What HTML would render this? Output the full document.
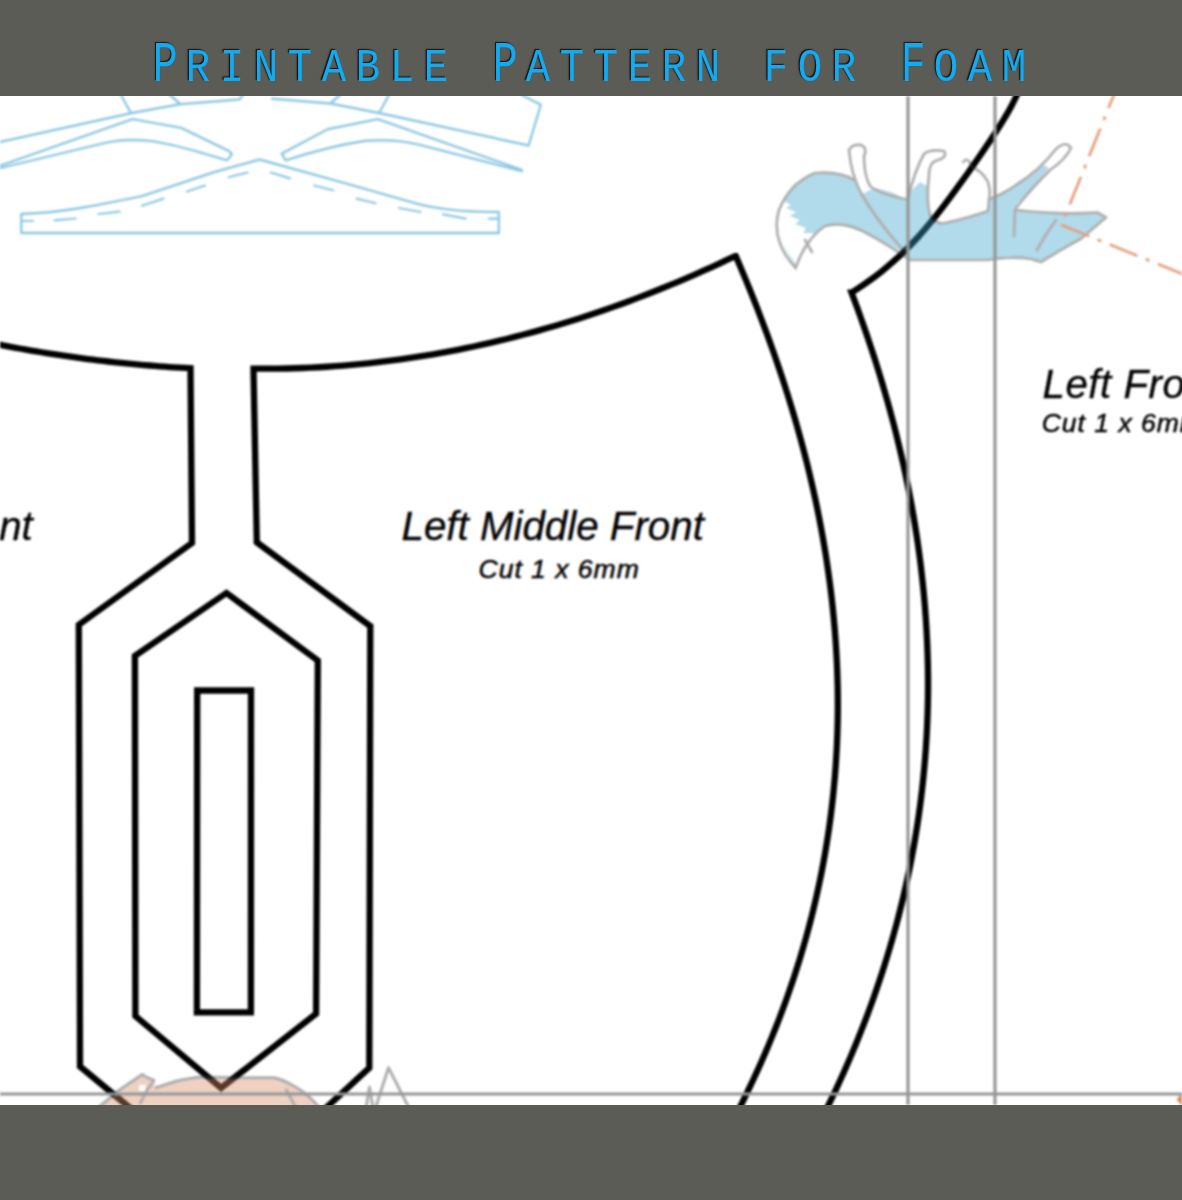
<!DOCTYPE html>
<html><head><meta charset="utf-8">
<style>
html,body{margin:0;padding:0;}
body{width:1182px;height:1200px;position:relative;overflow:hidden;background:#fff;}
#wrap{position:absolute;left:-12px;top:-12px;width:1206px;height:1224px;background:#fff;filter:blur(0.8px);}
#inner{position:absolute;left:12px;top:12px;width:1182px;height:1200px;}
.bar{position:absolute;left:0;width:1182px;background:#5c5c56;}
#top{top:0;height:96px;}
#bot{top:1105px;height:95px;}
svg{position:absolute;left:0;top:0;}
#title{position:absolute;left:0;top:0;height:96px;width:1182px;font-family:"Liberation Mono",monospace;color:#12aaf0;text-shadow:-1.5px -1.5px 1.4px rgba(10,10,8,0.95);}
#title span{position:absolute;width:34px;text-align:center;line-height:1;}
#title .c{transform:scaleX(0.72);}
#title .s{transform:scaleX(0.87);}
.lbl{position:absolute;font-family:"Liberation Sans",sans-serif;font-style:italic;color:#000;white-space:nowrap;line-height:1;}
.big{font-size:40.3px;-webkit-text-stroke:0.35px #000;}
.sub{font-size:26.5px;font-weight:normal;-webkit-text-stroke:0.55px #000;}
</style></head><body>
<div id="wrap"><div id="inner">
<svg width="1182" height="1200" viewBox="0 0 1182 1200">
  <defs><filter id="bl" x="-5%" y="-5%" width="110%" height="110%"><feGaussianBlur stdDeviation="0.6"/></filter></defs>
  <g fill="none" stroke="#8fc8e2" stroke-width="2.4" stroke-linejoin="round" stroke-linecap="round" >
    <path d="M-12,144.7 L131.8,113 L179.9,104.2 L239.4,99.5 L243,95"/>
    <path d="M121,95 L130.9,113 M170.1,95 L179.6,103.5"/>
    <path d="M-12,170 L132.5,119.1 L181.2,127.9 L228.6,150.9 L232,154 L227.2,160.4 Q212,156 194.8,150.9 Q175,145 154.1,141.4 Q130,138.5 113.5,141.4 Q106,142.5 100,144.1 L-12,171"/>
    <path d="M272.2,98.8 L330.4,103.5 L379.1,113 L528.6,145.5 L540.8,104.9 L521.8,95"/>
    <path d="M339.9,95 L330.4,103.5 M389,95 L379.1,113"/>
    <path d="M521.8,169.9 L377.8,119.1 L327.7,129.3 L281.7,153.6 L285.7,160.4 Q330,146 365.6,140.8 Q385,139.5 400.8,141.4 Q410,142.5 420,144.8 L521.8,171.2"/>
    <path d="M21.3,214 C60,213 100,205 142,196.2 L213,172.5 L259.5,159.5 L344.8,183.2 L415.8,203.3 C440,210 470,212 498.8,212 L498.8,233 L21.3,233 Z"/>
    <path d="M22.5,221 L33,221 M54.5,220.4 L75.8,218.5 M98.3,214 L119.6,211.6 M142,205.7 L163.5,198.6 M187,191.5 L205,185.5 M228.6,177.2 L247.6,172.5 M271,172.5 L290,178.4 M314,185.5 L333,190.3 M356.6,198.6 L375.6,203.3 M399,208 L420.6,212 M443,214.4 L465.6,218.7 M489,218.7 L498.8,218.7" stroke-width="2.2"/>
  </g>
  <g fill="none" stroke="#000" stroke-width="6.3" stroke-linejoin="miter">
    <path d="M-10.00,342.85 L-4.86,343.88 L0.28,344.89 L5.42,345.89 L10.56,346.86 L15.71,347.81 L20.85,348.74 L25.99,349.65 L31.13,350.54 L36.27,351.41 L41.41,352.26 L46.55,353.09 L51.69,353.90 L56.83,354.69 L61.97,355.47 L67.12,356.22 L72.26,356.95 L77.40,357.66 L82.54,358.35 L87.68,359.02 L92.82,359.67 L97.96,360.30 L103.10,360.91 L108.24,361.50 L113.38,362.07 L118.53,362.62 L123.67,363.15 L128.81,363.66 L133.95,364.15 L139.09,364.62 L144.23,365.07 L149.37,365.50 L154.51,365.91 L159.65,366.30 L164.79,366.67 L169.94,367.02 L175.08,367.35 L180.22,367.66 L185.36,367.95 L190.50,368.22 L192,543 L78.8,624.8 L80,1066.4 L135,1112"/>
    <path d="M314.8,1118.2 L369.3,1067.9 L370.3,626.1 L256.8,542.3 L253.5,369.2 L253.50,368.64 L261.66,368.70 L269.83,368.69 L277.99,368.62 L286.15,368.48 L294.31,368.27 L302.48,367.99 L310.64,367.64 L318.80,367.23 L326.96,366.75 L335.13,366.20 L343.29,365.58 L351.45,364.89 L359.62,364.14 L367.78,363.32 L375.94,362.43 L384.10,361.47 L392.27,360.45 L400.43,359.36 L408.59,358.19 L416.75,356.97 L424.92,355.67 L433.08,354.30 L441.24,352.87 L449.41,351.37 L457.57,349.80 L465.73,348.17 L473.89,346.46 L482.06,344.69 L490.22,342.85 L498.38,340.94 L506.54,338.97 L514.71,336.92 L522.87,334.81 L531.03,332.63 L539.19,330.39 L547.36,328.07 L555.52,325.69 L563.68,323.24 L571.85,320.72 L580.01,318.13 L588.17,315.48 L596.33,312.75 L604.50,309.96 L612.66,307.10 L620.82,304.18 L628.98,301.18 L637.15,298.12 L645.31,294.99 L653.47,291.79 L661.64,288.53 L669.80,285.19 L677.96,281.79 L686.12,278.32 L694.29,274.79 L702.45,271.18 L710.61,267.51 L718.77,263.77 L726.94,259.96 L735.10,256.08 L735.77,256.10 L739.49,264.78 L743.16,273.45 L746.76,282.13 L750.30,290.80 L753.77,299.48 L757.18,308.15 L760.53,316.83 L763.82,325.51 L767.03,334.18 L770.19,342.86 L773.28,351.53 L776.30,360.21 L779.25,368.88 L782.14,377.56 L784.96,386.24 L787.71,394.91 L790.40,403.59 L793.01,412.26 L795.56,420.94 L798.03,429.62 L800.44,438.29 L802.77,446.97 L805.04,455.64 L807.23,464.32 L809.35,472.99 L811.40,481.67 L813.37,490.35 L815.28,499.02 L817.11,507.70 L818.86,516.37 L820.54,525.05 L822.14,533.72 L823.67,542.40 L825.13,551.08 L826.51,559.75 L827.81,568.43 L829.03,577.10 L830.18,585.78 L831.24,594.45 L832.23,603.13 L833.14,611.81 L833.98,620.48 L834.73,629.16 L835.40,637.83 L835.99,646.51 L836.50,655.18 L836.93,663.86 L837.27,672.54 L837.53,681.21 L837.72,689.89 L837.81,698.56 L837.83,707.24 L837.76,715.92 L837.60,724.59 L837.36,733.27 L837.03,741.94 L836.62,750.62 L836.12,759.29 L835.54,767.97 L834.87,776.65 L834.11,785.32 L833.26,794.00 L832.32,802.67 L831.30,811.35 L830.18,820.02 L828.98,828.70 L827.68,837.38 L826.30,846.05 L824.82,854.73 L823.25,863.40 L821.59,872.08 L819.84,880.75 L817.99,889.43 L816.05,898.11 L814.02,906.78 L811.89,915.46 L809.67,924.13 L807.35,932.81 L804.94,941.48 L802.43,950.16 L799.82,958.84 L797.12,967.51 L794.32,976.19 L791.43,984.86 L788.43,993.54 L785.34,1002.22 L782.14,1010.89 L778.85,1019.57 L775.46,1028.24 L771.97,1036.92 L768.37,1045.59 L764.68,1054.27 L760.88,1062.95 L756.98,1071.62 L752.98,1080.30 L748.88,1088.97 L744.67,1097.65 L740.36,1106.32 L735.94,1115.00"/>
    <path d="M1021.11,85.00 L1019.45,89.24 L1017.62,93.47 L1015.65,97.71 L1013.54,101.95 L1011.32,106.18 L1008.99,110.42 L1006.57,114.66 L1004.06,118.89 L1001.48,123.13 L998.83,127.37 L996.13,131.60 L993.37,135.84 L990.57,140.08 L987.74,144.31 L984.87,148.55 L981.97,152.79 L979.05,157.02 L976.10,161.26 L973.14,165.50 L970.15,169.73 L967.15,173.97 L964.13,178.21 L961.08,182.44 L958.02,186.68 L954.92,190.92 L951.80,195.16 L948.64,199.39 L945.45,203.63 L942.21,207.87 L938.91,212.10 L935.56,216.34 L932.14,220.58 L928.64,224.81 L925.05,229.05 L921.37,233.29 L917.57,237.52 L913.65,241.76 L909.60,246.00 L905.40,250.23 L901.03,254.47 L896.49,258.71 L891.75,262.94 L886.79,267.18 L881.61,271.42 L876.17,275.65 L870.47,279.89 L864.47,284.13 L858.17,288.36 L851.53,292.60 L851.52,292.60 L854.65,300.91 L857.71,309.21 L860.71,317.52 L863.65,325.83 L866.52,334.14 L869.34,342.44 L872.09,350.75 L874.78,359.06 L877.40,367.36 L879.97,375.67 L882.47,383.98 L884.90,392.28 L887.28,400.59 L889.58,408.90 L891.83,417.21 L894.01,425.51 L896.12,433.82 L898.17,442.13 L900.15,450.43 L902.07,458.74 L903.92,467.05 L905.71,475.36 L907.43,483.66 L909.08,491.97 L910.67,500.28 L912.18,508.58 L913.63,516.89 L915.02,525.20 L916.33,533.51 L917.58,541.81 L918.76,550.12 L919.86,558.43 L920.90,566.73 L921.87,575.04 L922.77,583.35 L923.61,591.65 L924.37,599.96 L925.06,608.27 L925.68,616.58 L926.22,624.88 L926.70,633.19 L927.11,641.50 L927.44,649.80 L927.70,658.11 L927.89,666.42 L928.01,674.73 L928.06,683.03 L928.03,691.34 L927.93,699.65 L927.75,707.95 L927.50,716.26 L927.18,724.57 L926.78,732.87 L926.31,741.18 L925.76,749.49 L925.14,757.80 L924.44,766.10 L923.67,774.41 L922.82,782.72 L921.90,791.02 L920.90,799.33 L919.82,807.64 L918.66,815.95 L917.43,824.25 L916.12,832.56 L914.73,840.87 L913.27,849.17 L911.72,857.48 L910.10,865.79 L908.40,874.09 L906.62,882.40 L904.76,890.71 L902.82,899.02 L900.80,907.32 L898.70,915.63 L896.52,923.94 L894.26,932.24 L891.92,940.55 L889.50,948.86 L887.00,957.17 L884.41,965.47 L881.75,973.78 L879.00,982.09 L876.17,990.39 L873.25,998.70 L870.26,1007.01 L867.18,1015.32 L864.01,1023.62 L860.76,1031.93 L857.43,1040.24 L854.02,1048.54 L850.52,1056.85 L846.93,1065.16 L843.26,1073.46 L839.51,1081.77 L835.67,1090.08 L831.74,1098.39 L827.73,1106.69 L823.63,1115.00"/>
    <path d="M226.4,593 L317.8,660.5 L316.1,1013.8 L221.1,1088 L135.4,1016.1 L134.9,655.8 Z"/>
    <path d="M197.2,690.5 L251,690.5 L250.9,1012.4 L196.9,1012.4 Z"/>
  </g>
  <g opacity="0.4">
    <path fill="#3ea5cb" d="M795.7,268 L781,241 L777,218 L783.5,198 L794,184 L815,173 L835,173 L854,180 L862,194 L872,189 L875.6,188 L891.8,192.3 L905.4,199 L912,190 L920,182 L927,186 L928.4,211 L939.3,223.4 L965,218 L988,211.2 L989,199 L997.5,195 L1016,185 L1030,176 L1043.8,165 L1049,168 L1030,190 L1016,205 L1016.3,210 L1062.5,213.8 L1097.5,212.5 L1106,217.5 L1081,238.8 L1050,255 L1041,261 L1031,259 L1008,256 L988,260 L910.8,260 L902.7,251.8 L878.3,239.6 L858,230.2 L840.4,223.4 L826.9,224.8 L810.6,235.6 Z"/>
    <path fill="#fff" d="M782,200 L791,205 L786,208 L796,212 L790,216 L800,220 L795,224 L806,228 L803,233 L813,233 L803,248 L796,265 L780,240 L777,218 Z"/>
    <g fill="none" stroke="#373737" stroke-width="2.7" stroke-linejoin="round" stroke-linecap="round">
      <path d="M795.7,268 Q770,240 779,210 Q790,183 815,173 Q840,171 854,180"/>
      <path d="M849,150 Q851,175 862,195 Q880,225 906,253"/>
      <path d="M849,150 Q852,144 861,145 Q868,148 864,156 Q864,175 870,186 Q880,194 905,199"/>
      <path d="M795.7,268 Q805,240 825,226 Q845,220 870,235 Q890,246 910,260 L988,260 Q1010,256 1031,259 L1041,262 Q1060,250 1081,238.8 L1106,217.5 L1097.5,212.5 Q1060,215 1016.3,210"/>
      <path d="M805,240 L812,252"/>
      
      <path d="M908,198 Q915,170 924,154 Q930,149 944,151 Q948,157 938,160 Q929,162 929,175 Q926,200 930,215 Q936,225 945,223 Q968,218 988,211 L989,199"/>
      <path d="M963,162 Q968,156 971,166 Q983,172 988,182 Q991,192 989,199 Q1000,196 1016,185 Q1040,170 1056,149 Q1066,140 1071,148 Q1065,160 1050,170 Q1030,190 1016,208"/>
      <path d="M1015,210 L1014,236"/>
      <path d="M1056,220 Q1045,235 1037,250"/>
    </g>
  </g>
  <g opacity="0.4">
    <path fill="#d98e69" d="M98,1110 L118.6,1090.5 L142.3,1074.4 L154,1080 L155,1088 L176,1081.2 L200,1076.9 L240,1077.8 L273.8,1077.8 L290.8,1084.5 L303.5,1092.1 L320,1110 Z"/>
    <path fill="#fff" d="M139,1085 L146,1085 L145,1091 L139,1091 Z"/>
    <g fill="none" stroke="#373737" stroke-width="3" stroke-linejoin="round">
      <path d="M155,1088 L176,1081.2 Q190,1078 200,1076.9 L240,1077.8 L273.8,1077.8 Q284,1080 290.8,1084.5 Q298,1088 303.5,1092.1 Q312,1099 320,1108"/>
      <path d="M98,1108 L118.6,1090.5 L142.3,1074.4 L145.7,1076.9 L154.1,1080.3 L147.4,1089.6 L139.8,1104"/>
      <path d="M285.7,1088.8 L296,1108"/>
      <path d="M375.5,1108 L388.5,1067.6 L409,1108"/>
      <path d="M366,1108 L369.5,1087 L373,1108"/>
    </g>
  </g>
  <g fill="none" stroke="#e5a080" stroke-width="2.8" stroke-dasharray="30,9,4,9" stroke-dashoffset="12.7">
    <path d="M1115,92 L1061.5,225 L1190,277"/>
  </g>
  <path d="M1182,1093 L1176.5,1099.5 L1182,1106 Z" fill="#e08a55"/>
  <g stroke="#959595" stroke-width="3.2" fill="none">
    <line x1="908" y1="96" x2="908" y2="1105"/>
    <line x1="995" y1="96" x2="995" y2="1105"/>
    <line x1="0" y1="1094" x2="1182" y2="1094"/>
  </g>
</svg>
<div class="lbl big" id="l1" style="left:401.5px;top:506.5px;">Left Middle Front</div>
<div class="lbl sub" id="l1s" style="left:478.5px;top:556px;letter-spacing:1px;">Cut 1 x 6mm</div>
<div class="lbl big" id="l2" style="left:1042.5px;top:364.6px;letter-spacing:0.5px;">Left Front</div>
<div class="lbl sub" id="l2s" style="left:1041.7px;top:410px;letter-spacing:1px;">Cut 1 x 6mm</div>
<div class="lbl big" id="l0" style="right:1149.2px;top:506.5px;">Left Side Front</div>
</div></div>
<div class="bar" id="top"></div>
<div class="bar" id="bot"></div>
<div id="title"><span class="c" style="left:147.9px;top:36.7px;font-size:57.6px">P</span><span class="s" style="left:181.2px;top:45.6px;font-size:46.8px">R</span><span class="s" style="left:215.2px;top:45.6px;font-size:46.8px">I</span><span class="s" style="left:249.2px;top:45.6px;font-size:46.8px">N</span><span class="s" style="left:283.2px;top:45.6px;font-size:46.8px">T</span><span class="s" style="left:317.2px;top:45.6px;font-size:46.8px">A</span><span class="s" style="left:351.2px;top:45.6px;font-size:46.8px">B</span><span class="s" style="left:385.2px;top:45.6px;font-size:46.8px">L</span><span class="s" style="left:419.2px;top:45.6px;font-size:46.8px">E</span><span class="c" style="left:487.9px;top:36.7px;font-size:57.6px">P</span><span class="s" style="left:521.2px;top:45.6px;font-size:46.8px">A</span><span class="s" style="left:555.2px;top:45.6px;font-size:46.8px">T</span><span class="s" style="left:589.2px;top:45.6px;font-size:46.8px">T</span><span class="s" style="left:623.2px;top:45.6px;font-size:46.8px">E</span><span class="s" style="left:657.2px;top:45.6px;font-size:46.8px">R</span><span class="s" style="left:691.2px;top:45.6px;font-size:46.8px">N</span><span class="s" style="left:759.2px;top:45.6px;font-size:46.8px">F</span><span class="s" style="left:793.2px;top:45.6px;font-size:46.8px">O</span><span class="s" style="left:827.2px;top:45.6px;font-size:46.8px">R</span><span class="c" style="left:895.9px;top:36.7px;font-size:57.6px">F</span><span class="s" style="left:929.2px;top:45.6px;font-size:46.8px">O</span><span class="s" style="left:963.2px;top:45.6px;font-size:46.8px">A</span><span class="s" style="left:997.2px;top:45.6px;font-size:46.8px">M</span></div>
</body></html>
